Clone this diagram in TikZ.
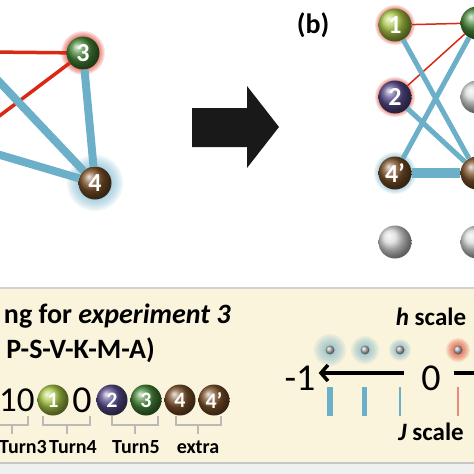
\documentclass[tikz,border=0pt]{standalone}
\usepackage{fontspec}
\setmainfont{Carlito}
\usetikzlibrary{arrows.meta,backgrounds}

\definecolor{bondblue}{RGB}{107,175,200}
\definecolor{bondred}{RGB}{218,40,20}
\definecolor{lime}{RGB}{170,200,70}
\definecolor{leaf}{RGB}{70,135,55}
\definecolor{plum}{RGB}{88,76,140}
\definecolor{bark}{RGB}{125,82,42}
\definecolor{cream}{RGB}{251,244,220}

% soft halo: node, colour, inner radius, outer radius
\newcommand{\halo}[4]{%
  \foreach \k in {0,...,5}{%
    \pgfmathsetmacro\rr{#4-\k*(#4-#3)/6}
    \fill[#2, opacity=0.12] (#1) circle[radius=\rr];}}

\begin{document}
\begin{tikzpicture}[x=1pt,y=-1pt,
  spin/.style={circle, minimum size=33pt, inner sep=0pt, text=white, font=\bfseries\fontsize{26}{26}\selectfont},
  chip/.style={circle, minimum size=31pt, inner sep=0pt, text=white, font=\bfseries\fontsize{22}{22}\selectfont},
  dot/.style={circle, minimum size=9pt, inner sep=0pt, ball color=gray!60},
  jbond/.style={draw=bondblue, line width=#1},
  redbond/.style={draw=bondred, line width=#1},
  brk/.style={draw=gray!55, line width=2.5pt},
  big/.style={font=\fontsize{38}{38}\selectfont, inner sep=3pt},
  lbl/.style={font=\bfseries\fontsize{20}{20}\selectfont, inner sep=0pt},
  head/.style={font=\bfseries\fontsize{28}{28}\selectfont, inner sep=0pt}]
\useasboundingbox (0,0) rectangle (474,474);
\clip (0,0) rectangle (474,474);

\begin{scope}[on background layer]
\fill[cream] (-5,288) rectangle (480,463);
\draw[gray!35, line width=1.5pt] (-5,288) -- (480,288);
\fill[gray!12] (-5,463) rectangle (480,480);
\draw[gray!45, line width=1.5pt] (-5,463) -- (480,463);
\end{scope}

% left graph
\node[spin, ball color=leaf] (l3) at (83,53) {3};
\node[spin, ball color=bark] (l4) at (95,183) {4};
\coordinate (la) at (-10,52);
\coordinate (lb) at (-10,123);
\coordinate (lc) at (-10,72);
\coordinate (ld) at (-10,152);
\draw[redbond=3.5pt] (la) -- (l3);
\draw[redbond=3.5pt] (lb) -- (l3);
\draw[jbond=8pt] (lc) -- (l4);
\draw[jbond=8pt] (ld) -- (l4);
\draw[jbond=8pt] (l3) -- (l4);

% big arrow
\fill[black!90] (192,108) -- (247,108) -- (247,86) -- (279,127) -- (247,168) -- (247,147) -- (192,147) -- cycle;

\node[font=\bfseries\fontsize{28}{28}\selectfont] (lab) at (313,25) {(b)};

% right graph
\node[spin, ball color=lime] (r1) at (395,25) {1};
\node[spin, ball color=plum] (r2) at (395,97) {2};
\node[spin, ball color=bark] (r4p) at (395,173) {4’};
\node[spin, ball color=gray!30] (r5) at (395,242) {};
\node[spin, ball color=leaf] (s3) at (477,23) {};
\node[spin, ball color=gray!30] (s6) at (477,97) {};
\node[spin, ball color=bark] (s4) at (477,173) {};
\node[spin, ball color=gray!30] (s8) at (477,242) {};
\draw[redbond=1.5pt] (r1) -- (s3);
\draw[redbond=1.5pt] (r2) -- (s3);
\draw[jbond=5pt] (r1) -- (s4);
\draw[jbond=5pt] (r2) -- (s4);
\draw[jbond=5pt] (r4p) -- (s3);
\draw[jbond=10pt] (r4p) -- (s4);

% encoding panel
\node[head, anchor=east] (hd1) at (231,316) {ng for \textit{experiment 3}};
\node[head, anchor=east] (hd2) at (155,350) {P-S-V-K-M-A)};
\node[big, anchor=west, font=\fontsize{35}{35}\selectfont] (ten) at (-4,400) {10};
\node[chip, ball color=lime] (b1) at (53,400) {1};
\node[big] (nil) at (82,400) {0};
\node[chip, ball color=plum] (b2) at (112,400) {2};
\node[chip, ball color=leaf] (b3) at (146,400) {3};
\node[chip, ball color=bark] (b4) at (180,400) {4};
\node[chip, ball color=bark] (b4p) at (214,400) {4’};

\draw[brk] (-4,416) |- (12,425) -| (28,416);
\draw[brk] (12,425) -- (12,434);
\draw[brk] (43,416) |- (67,425) -| (90,416);
\draw[brk] (67,425) -- (67,434);
\draw[brk] (112,416) |- (135,425) -| (158,416);
\draw[brk] (135,425) -- (135,434);
\draw[brk] (176,416) |- (198,425) -| (221,416);
\draw[brk] (198,425) -- (198,434);
\node[lbl, anchor=west] (t3) at (-1,447) {Turn3};
\node[lbl] (t4) at (73,447) {Turn4};
\node[lbl] (t5) at (136,447) {Turn5};
\node[lbl] (ex) at (198,447) {extra};

% scales
\node[lbl, font=\bfseries\fontsize{25}{25}\selectfont] (hs) at (431,317) {\textit{h} scale};
\node[lbl, font=\bfseries\fontsize{25}{25}\selectfont] (js) at (431,432) {\textit{J} scale};
\node[dot] (d1) at (330,350) {};
\node[dot] (d2) at (365,350) {};
\node[dot] (d3) at (400,350) {};
\node[dot] (d4) at (458,350) {};
\node[big] (mone) at (300,378) {-1};
\node[big] (zero) at (431,378) {0};
\coordinate (axr) at (480,373);
\draw[line width=3.5pt, -{Straight Barb[length=7pt,width=16pt]}] ([shift={(-14pt,5pt)}]zero.west) -- ([yshift=5pt]mone.east);
\draw[line width=3.5pt] ([shift={(10pt,5pt)}]zero.east) -- (axr);
\fill[bondblue] (327,387) rectangle (333,416);
\fill[bondblue] (362,387) rectangle (367,416);
\fill[bondblue] (399,387) rectangle (401,416);
\fill[bondred!55] (457.2,387) rectangle (458.8,416);

\begin{scope}[on background layer]
\halo{l3}{bondred}{16}{22}
\halo{l4}{bondblue}{16}{28}
\halo{r1}{bondred}{15}{20}
\halo{r2}{bondred}{15}{20}
\halo{r4p}{bondblue}{15}{21}
\halo{d1}{bondblue}{4}{16}
\halo{d2}{bondblue}{4}{14}
\halo{d3}{bondblue}{4}{11}
\halo{d4}{bondred}{4}{12}
\end{scope}
\end{tikzpicture}
\end{document}
